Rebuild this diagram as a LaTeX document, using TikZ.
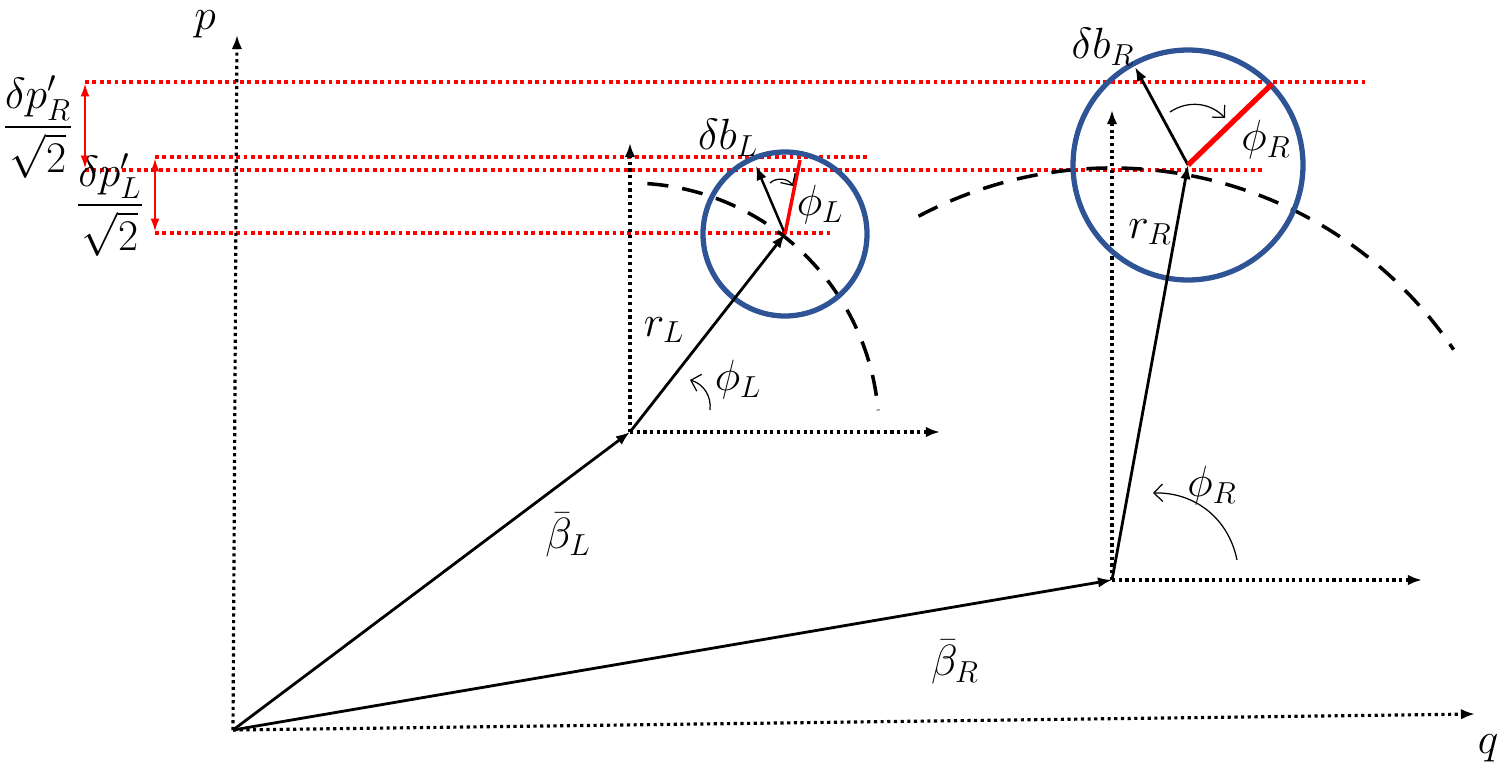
\documentclass[tikz,border=0pt]{standalone}
\usepackage{amsmath}
\usetikzlibrary{arrows.meta}
\begin{document}
\begin{tikzpicture}[x=0.02cm,y=-0.02cm,
  vec/.style={line width=1.6pt,-{Latex[length=8pt,width=6pt]}},
  ax/.style={line width=1.8pt,dotted,-{Latex[length=8pt,width=6pt]}},
  rdot/.style={red,line width=2.2pt,dotted},
  rarr/.style={red,line width=0.6pt,{Latex[length=7pt,width=5pt]}-{Latex[length=7pt,width=5pt]}},
  circ/.style={draw={rgb,255:red,47;green,84;blue,150},line width=3pt},
  darc/.style={line width=2pt,dash pattern=on 12pt off 8pt},
  small/.style={line width=0.7pt,-{Straight Barb[length=5pt]}},
  lab/.style={font=\fontsize{25}{30}\selectfont,inner sep=1pt}]
\useasboundingbox (0,0) rectangle (1500,774);
% points
\coordinate (O) at (233,730);
\coordinate (LB) at (630,432);
\coordinate (RB) at (1112,580);
\coordinate (LC) at (785,234);
\coordinate (RC) at (1188,165);
\coordinate (pend) at (237,35);
\coordinate (qend) at (1475,714);
\coordinate (LBv) at (630,143);
\coordinate (LBh) at (940,432);
\coordinate (RBv) at (1112,110);
\coordinate (RBh) at (1422,580);
\coordinate (dbL) at (756,166);
\coordinate (redL) at (800,160);
\coordinate (dbR) at (1135,67);
\coordinate (redR) at (1272,84);
% red dotted lines
\draw[rdot] (85,82) -- (1365,82);
\draw[rdot] (85,170) -- (1265,170);
\draw[rdot] (155,157) -- (868,157);
\draw[rdot] (155,233) -- (832,233);
\draw[rarr] (85,84) -- (85,168);
\draw[rarr] (155,159) -- (155,231);
% axes
\draw[ax] (O) -- (pend);
\draw[ax] (O) -- (qend);
\draw[ax] (LB) -- (LBv);
\draw[ax] (LB) -- (LBh);
\draw[ax] (RB) -- (RBv);
\draw[ax] (RB) -- (RBh);
% dashed arcs
\draw[darc] (LB) ++(-86:249) arc[start angle=-86,end angle=-5,radius=249];
\draw[darc] (RB) ++(-118:412) arc[start angle=-118,end angle=-34,radius=412];
% circles
\draw[circ] (LC) circle[radius=82];
\draw[circ] (RC) circle[radius=115];
% vectors
\draw[vec] (O) -- (LB);
\draw[vec] (O) -- (RB);
\draw[vec] (LB) -- (LC);
\draw[vec] (RB) -- (RC);
\draw[vec,line width=1.4pt] (LC) -- (dbL);
\draw[vec] (RC) -- (dbR);
\draw[red,line width=2pt] (LC) -- (redL);
\draw[red,line width=3pt] (RC) -- (redR);
% small arcs
\draw[small] (770,183) to[bend left=50] (793,186);
\draw[small] (1170,112) to[bend left=40] (1225,118);
\draw[small] (710,410) to[bend right=40] (690,380);
\draw[small] (1237,560) to[bend right=40] (1153,493);
% labels
\node[lab] (lp) at (205,24) {$p$};
\node[lab] (lq) at (1488,748) {$q$};
\node[lab] (l1) at (38,127) {$\dfrac{\delta p'_R}{\sqrt2}$};
\node[lab] (l2) at (110,205) {$\dfrac{\delta p'_L}{\sqrt2}$};
\node[lab] (l3) at (728,138) {$\delta b_L$};
\node[lab] (l4) at (820,205) {$\phi_L$};
\node[lab] (l5) at (664,330) {$r_L$};
\node[lab] (l6) at (738,380) {$\phi_L$};
\node[lab] (l7) at (568,535) {$\bar\beta_L$};
\node[lab] (l8) at (1103,47) {$\delta b_R$};
\node[lab] (l9) at (1266,140) {$\phi_R$};
\node[lab] (l10) at (1150,232) {$r_R$};
\node[lab] (l11) at (1212,486) {$\phi_R$};
\node[lab] (l12) at (955,662) {$\bar\beta_R$};
\end{tikzpicture}
\end{document}
